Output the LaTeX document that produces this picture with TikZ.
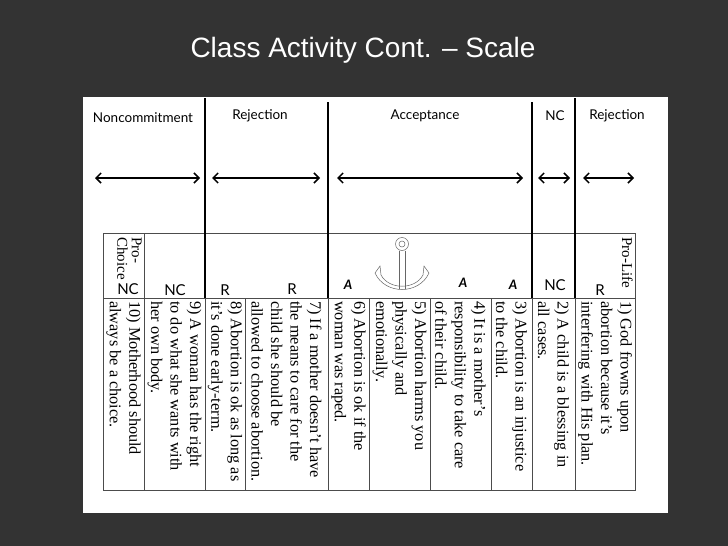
\documentclass[tikz,border=0pt]{standalone}
\usepackage{fontspec}
\setmainfont{Liberation Serif}
\newfontfamily\titlefont{Liberation Sans}
\newfontfamily\handfont{Lato}
\usetikzlibrary{arrows.meta}
\begin{document}
\begin{tikzpicture}[x=1pt,y=-1pt,
  thick line/.style={line width=2.2pt,black},
  thin line/.style={line width=0.6pt,black!70},
  darr/.style={line width=1.5pt,{Straight Barb[length=5pt,width=10pt]}-{Straight Barb[length=5pt,width=10pt]}},
  toplab/.style={font=\handfont\fontsize{13.5}{14}\selectfont},
  hlab/.style={font=\handfont\fontsize{15}{16}\selectfont},
  alab/.style={font=\handfont\bfseries\itshape\fontsize{13}{14}\selectfont},
  body/.style={rotate=-90,anchor=west,align=left,inner sep=1pt,font=\fontsize{16.3}{19.5}\selectfont},
  vlab/.style={rotate=-90,anchor=north west,align=left,inner sep=1pt,font=\fontsize{15}{14.5}\selectfont}]
\fill[fill=black!80] (0,0) rectangle (728,546);
\useasboundingbox (0,0) rectangle (728,546);
\node[font=\titlefont\fontsize{28}{30}\selectfont,text=white] (title) at (363,50) {Class Activity Cont. – Scale};
\fill[white] (83,97) rectangle (668,513);
% top labels
\node[toplab] (l1) at (143,118) {Noncommitment};
\node[toplab] (l2) at (260,116) {Rejection};
\node[toplab] (l3) at (425,116) {Acceptance};
\node[toplab] (l4) at (555,116) {NC};
\node[toplab] (l5) at (617,116) {Rejection};
% arrows
\coordinate (a1) at (95,178); \coordinate (b1) at (200,178);
\coordinate (a2) at (212,178); \coordinate (b2) at (320,178);
\coordinate (a3) at (337,178); \coordinate (b3) at (523,178);
\coordinate (a4) at (538,178); \coordinate (b4) at (570,178);
\coordinate (a5) at (583,178); \coordinate (b5) at (634,178);
\foreach \i in {1,...,5} \draw[darr] (a\i) -- (b\i);
% table
\draw[thin line] (103,233) rectangle (635,490);
\draw[thin line] (103,298) -- (635,298);
\draw[thin line] (144,233) -- (144,490);
\foreach \x in {245,369,430,491} \draw[thin line] (\x,298) -- (\x,490);
\foreach \x in {205,328,532,575} \draw[thin line] (\x,298) -- (\x,490);
\draw[thick line] (205,98) -- (205,298);
\draw[thick line] (328,102) -- (328,298);
\draw[thick line] (532,102) -- (532,298);
\draw[thick line] (575,98) -- (575,298);
% header labels
\node[vlab] (pc) at (143,236) {Pro-\\Choice};
\node[vlab] (pl) at (634,236) {Pro-Life};
\node[hlab] (h1) at (128,289) {NC};
\node[hlab] (h2) at (175,290) {NC};
\node[hlab] (h3) at (225,290) {R};
\node[hlab] (h4) at (292,289) {R};
\node[alab] (h5) at (348,285) {A};
\node[alab] (h6) at (463,283) {A};
\node[alab] (h7) at (513,285) {A};
\node[hlab] (h8) at (555,285) {NC};
\node[hlab] (h9) at (600,290) {R};
% anchor icon
\begin{scope}[line width=0.5pt,black!60]
\draw (402,244) circle (6.5);
\draw (402,244) circle (3);
\draw (399,250.5) -- (399,289) (405,250.5) -- (405,289);
\draw (375,273) .. controls (385,295) and (419,295) .. (429,273);
\draw (381,275) .. controls (389,290) and (415,290) .. (423,275);
\draw (375,273) -- (380,266) -- (381,275) (429,273) -- (424,266) -- (423,275);
\end{scope}
% body
\node[body] (t1) at (605,300) {1) God frowns upon\\abortion because it's\\interfering with His plan.};
\node[body] (t2) at (553.5,300) {2) A child is a blessing in\\all cases.};
\node[body] (t3) at (511.5,300) {3) Abortion is an injustice\\to the child.};
\node[body] (t4) at (460.5,300) {4) It is a mother's\\responsibility to take care\\of their child.};
\node[body] (t5) at (399.5,300) {5) Abortion harms you\\physically and\\emotionally.};
\node[body] (t6) at (348.5,300) {6) Abortion is ok if the\\woman was raped.};
\node[body] (t7) at (286.5,300) {7) If a mother doesn't have\\the means to care for the\\child she should be\\allowed to choose abortion.};
\node[body] (t8) at (225,300) {8) Abortion is ok as long as\\it's done early-term.};
\node[body] (t9) at (174.5,300) {9) A woman has the right\\to do what she wants with\\her own body.};
\node[body] (t10) at (123.5,300) {10) Motherhood should\\always be a choice.};
\end{tikzpicture}
\end{document}
